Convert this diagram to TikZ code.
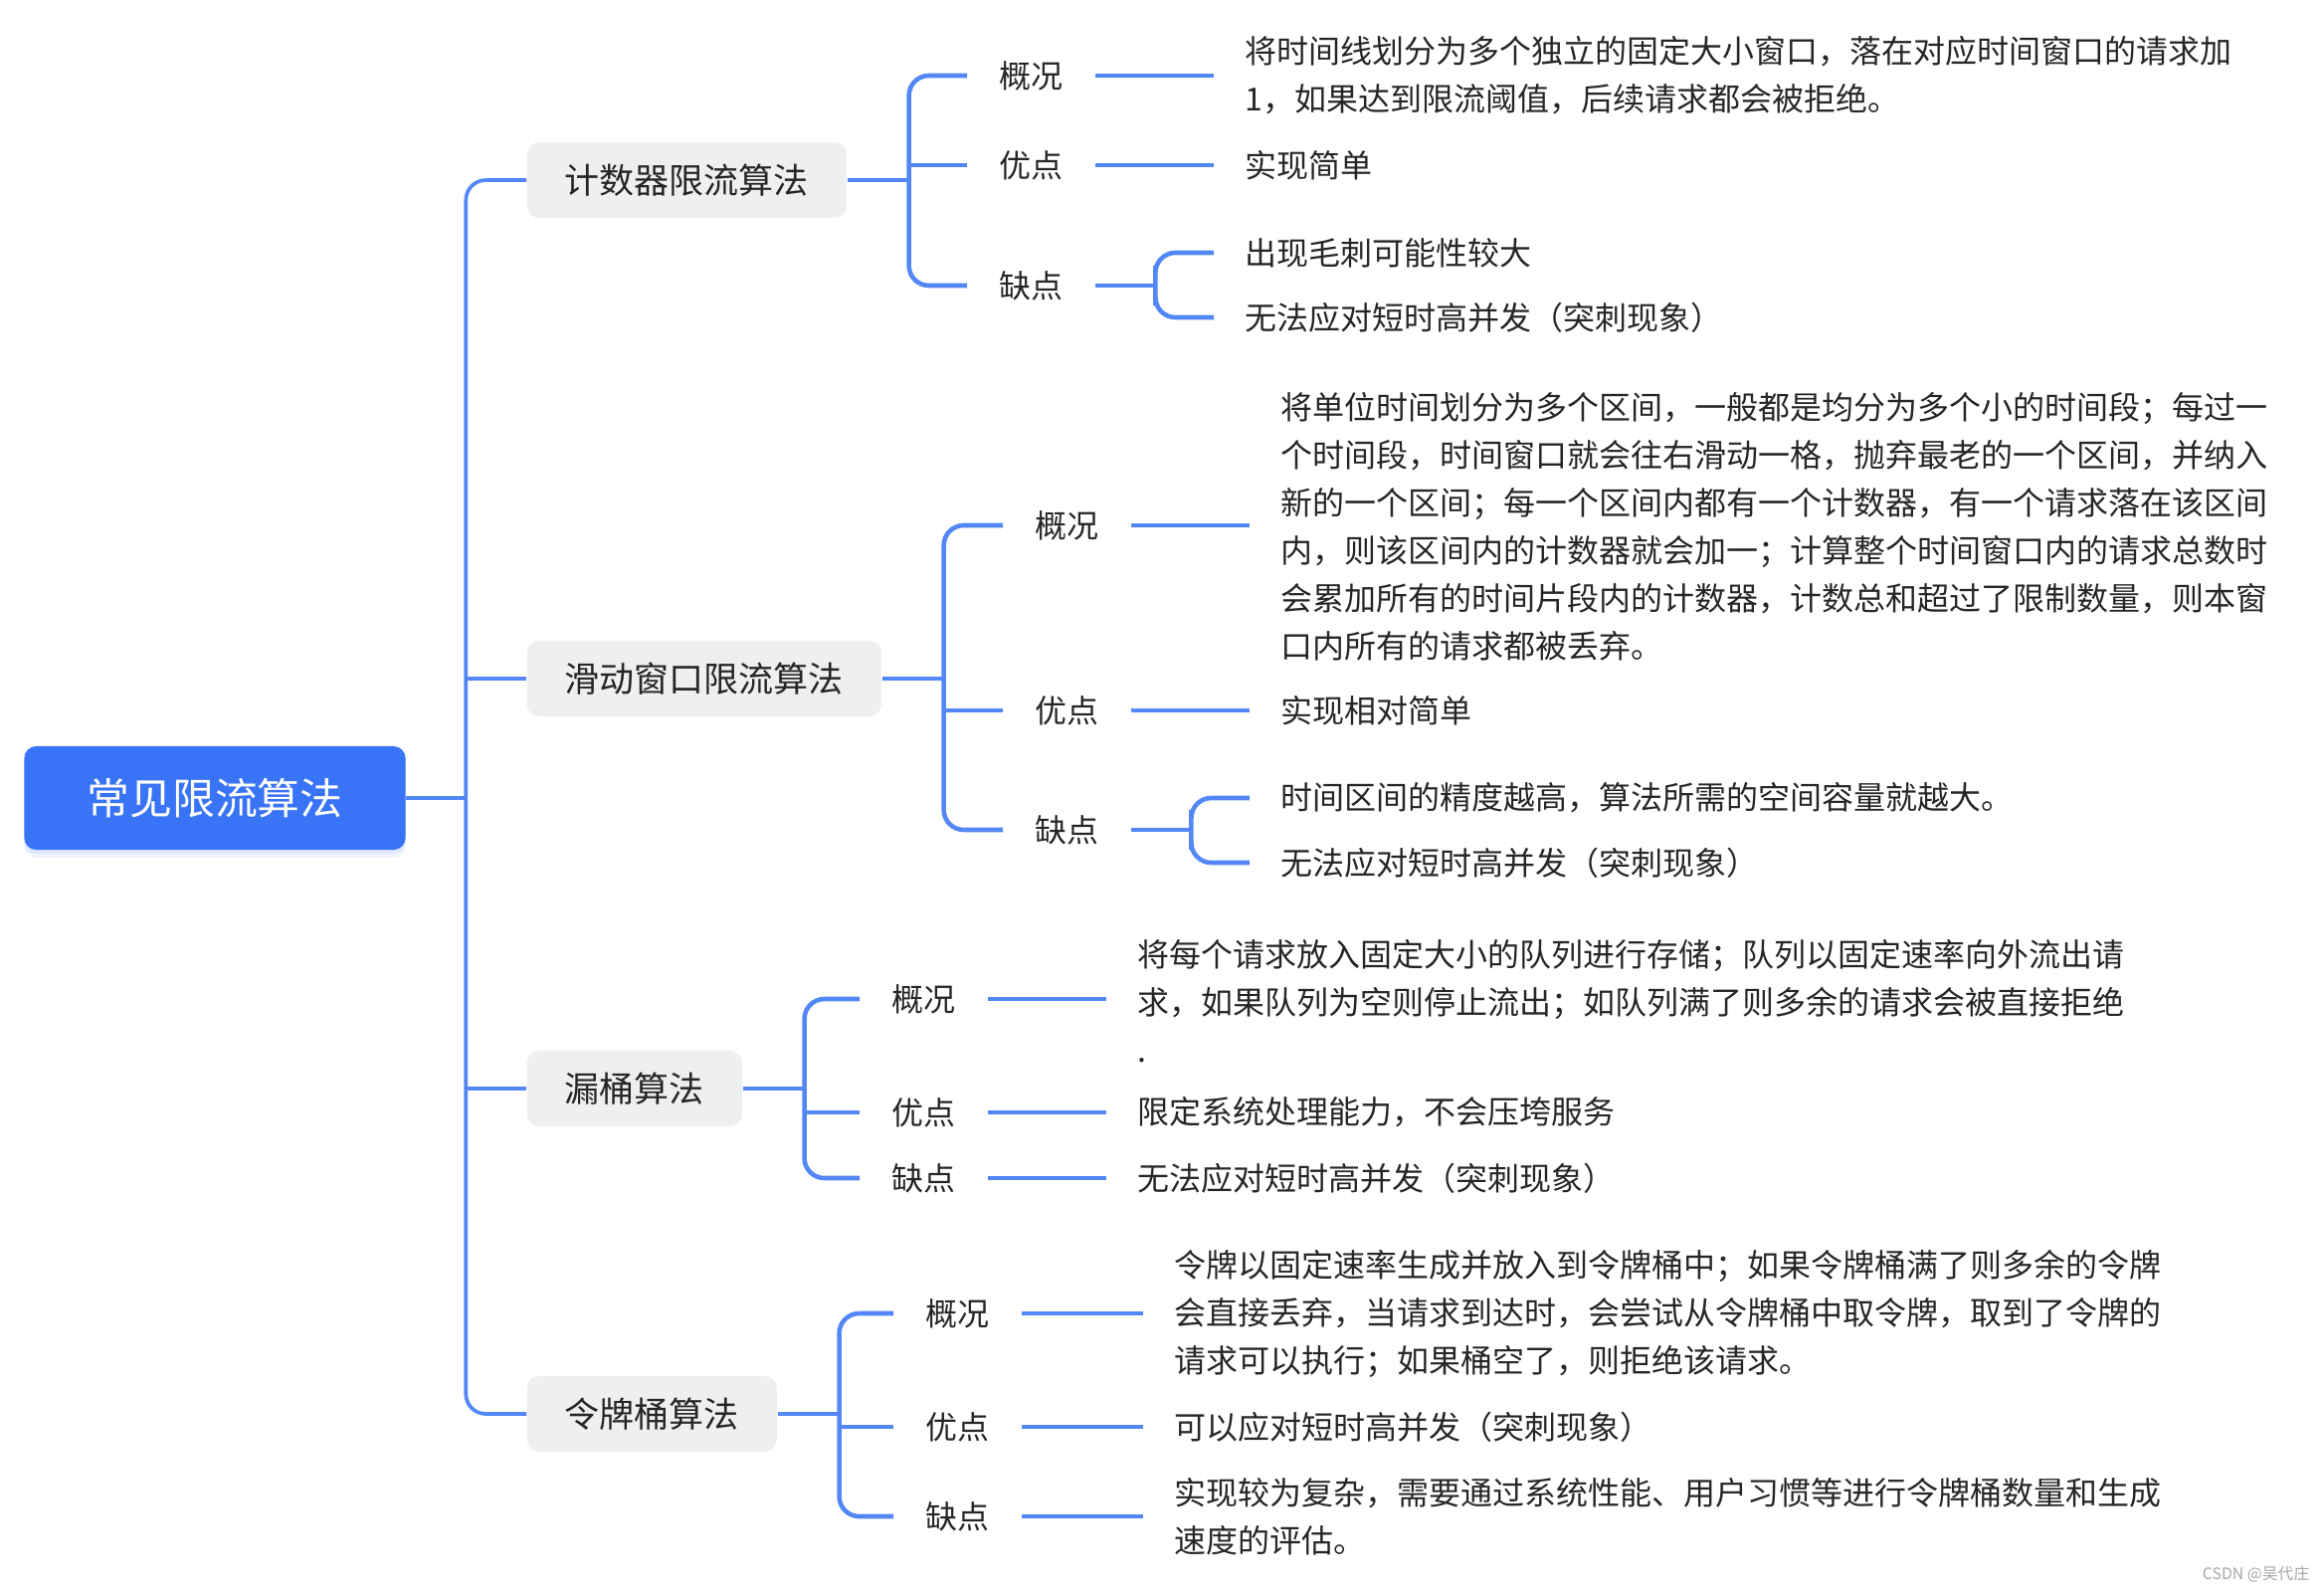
\documentclass[tikz,border=0pt]{standalone}
\usepackage{fontspec}
\newfontfamily\cjk{Noto Sans CJK SC}
\usetikzlibrary{shadows}
\definecolor{rootblue}{RGB}{57,116,246}
\definecolor{linkblue}{RGB}{82,135,245}
\definecolor{boxgray}{RGB}{238,239,241}
\definecolor{textdark}{RGB}{38,38,38}

\begin{document}
\begin{tikzpicture}[x=0.01cm, y=-0.01cm,
    root/.style={fill=rootblue, text=white, font=\cjk\fontsize{12.2pt}{14pt}\selectfont,
                 minimum width=3.83cm, minimum height=1.04cm, rounded corners=0.12cm,
                 drop shadow={shadow xshift=0cm, shadow yshift=-0.08cm, fill=rootblue, opacity=0.08},
                 drop shadow={shadow xshift=0cm, shadow yshift=-0.04cm, fill=rootblue, opacity=0.1}},
    algo/.style={fill=boxgray, text=textdark, font=\cjk\fontsize{9.96pt}{12pt}\selectfont,
                 inner xsep=0.38cm, inner ysep=0pt, minimum height=0.76cm,
                 rounded corners=0.12cm, anchor=west},
    tag/.style={text=textdark, font=\cjk\fontsize{9.1pt}{13.66pt}\selectfont,
                inner xsep=0.32cm, inner ysep=0pt, anchor=west},
    leaf/.style={tag, align=left, inner xsep=0.31cm},
    wmark/.style={text=gray!70, font=\cjk\fontsize{4.5pt}{5pt}\selectfont, inner sep=0pt, anchor=east},
    trunk/.style={draw=linkblue, line width=1.05pt, rounded corners=0.2cm},
    branch/.style={draw=linkblue, line width=1.3pt, rounded corners=0.2cm}]
  \useasboundingbox (0,0) rectangle (2336,1600);

  %% root and the four algorithms
  \node[root] (root) at (216,802) {常见限流算法};
  \node[algo] (cnt)  at (529,181)  {计数器限流算法};
  \node[algo] (win)  at (529,682)  {滑动窗口限流算法};
  \node[algo] (leak) at (529,1094) {漏桶算法};
  \node[algo] (tok)  at (529,1421) {令牌桶算法};

  %% counter
  \node[tag] (cnt-gk) at (972,76)  {概况};
  \node[tag] (cnt-yd) at (972,166) {优点};
  \node[tag] (cnt-qd) at (972,287) {缺点};
  \node[leaf] (cnt-gk-t) at (1220,76)
    {将时间线划分为多个独立的固定大小窗口，落在对应时间窗口的请求加\\
     1，如果达到限流阈值，后续请求都会被拒绝。};
  \node[leaf] (cnt-yd-t) at (1220,166) {实现简单};
  \node[leaf] (cnt-qd-a) at (1220,254) {出现毛刺可能性较大};
  \node[leaf] (cnt-qd-b) at (1220,319) {无法应对短时高并发（突刺现象）};

  %% sliding window
  \node[tag] (win-gk) at (1008,528) {概况};
  \node[tag] (win-yd) at (1008,714) {优点};
  \node[tag] (win-qd) at (1008,834) {缺点};
  \node[leaf] (win-gk-t) at (1256,529)
    {将单位时间划分为多个区间，一般都是均分为多个小的时间段；每过一\\
     个时间段，时间窗口就会往右滑动一格，抛弃最老的一个区间，并纳入\\
     新的一个区间；每一个区间内都有一个计数器，有一个请求落在该区间\\
     内，则该区间内的计数器就会加一；计算整个时间窗口内的请求总数时\\
     会累加所有的时间片段内的计数器，计数总和超过了限制数量，则本窗\\
     口内所有的请求都被丢弃。};
  \node[leaf] (win-yd-t) at (1256,714) {实现相对简单};
  \node[leaf] (win-qd-a) at (1256,802) {时间区间的精度越高，算法所需的空间容量就越大。};
  \node[leaf] (win-qd-b) at (1256,867) {无法应对短时高并发（突刺现象）};

  %% leaky bucket
  \node[tag] (leak-gk) at (864,1004) {概况};
  \node[tag] (leak-yd) at (864,1118) {优点};
  \node[tag] (leak-qd) at (864,1184) {缺点};
  \node[leaf] (leak-gk-t) at (1112,1006)
    {将每个请求放入固定大小的队列进行存储；队列以固定速率向外流出请\\
     求，如果队列为空则停止流出；如队列满了则多余的请求会被直接拒绝\\
     .};
  \node[leaf] (leak-yd-t) at (1112,1118) {限定系统处理能力，不会压垮服务};
  \node[leaf] (leak-qd-t) at (1112,1184) {无法应对短时高并发（突刺现象）};

  %% token bucket
  \node[tag] (tok-gk) at (898,1320) {概况};
  \node[tag] (tok-yd) at (898,1434) {优点};
  \node[tag] (tok-qd) at (898,1524) {缺点};
  \node[leaf] (tok-gk-t) at (1149,1320)
    {令牌以固定速率生成并放入到令牌桶中；如果令牌桶满了则多余的令牌\\
     会直接丢弃，当请求到达时，会尝试从令牌桶中取令牌，取到了令牌的\\
     请求可以执行；如果桶空了，则拒绝该请求。};
  \node[leaf] (tok-yd-t) at (1149,1434) {可以应对短时高并发（突刺现象）};
  \node[leaf] (tok-qd-t) at (1149,1524)
    {实现较为复杂，需要通过系统性能、用户习惯等进行令牌桶数量和生成\\
     速度的评估。};

  \node[wmark] (csdn) at (2322,1582) {CSDN @吴代庄};

  %% trunk from the root
  \path (root.east) ++(60,0) coordinate (root-j);
  \draw[trunk] (cnt.west) -| (root-j) |- (tok.west);
  \draw[trunk] (root.east) -- (root-j);
  \foreach \g in {win,leak}
    \draw[trunk] (\g.west) -- (\g.west -| root-j);

  %% brackets to the tags
  \foreach \g in {cnt,win,leak,tok} {
    \path (\g.east) ++(62,0) coordinate (\g-j);
    \draw[branch] (\g-gk.west) -| (\g-j) |- (\g-qd.west);
    \draw[branch] (\g.east) -- (\g-j);
    \draw[branch] (\g-yd.west) -- (\g-yd.west -| \g-j);
  }

  %% tag to text
  \foreach \a/\b in {cnt-gk/cnt-gk-t, cnt-yd/cnt-yd-t, win-gk/win-gk-t, win-yd/win-yd-t,
                     leak-gk/leak-gk-t, leak-yd/leak-yd-t, leak-qd/leak-qd-t,
                     tok-gk/tok-gk-t, tok-yd/tok-yd-t, tok-qd/tok-qd-t}
    \draw[branch] (\a.east) -- (\a.east -| \b.west);

  %% two-item drawbacks
  \foreach \g in {cnt,win} {
    \path (\g-qd.east) ++(60,0) coordinate (\g-qd-j);
    \draw[branch] (\g-qd-a.west) -| (\g-qd-j) |- (\g-qd-b.west);
    \draw[branch] (\g-qd.east) -- (\g-qd-j);
  }
\end{tikzpicture}
\end{document}
